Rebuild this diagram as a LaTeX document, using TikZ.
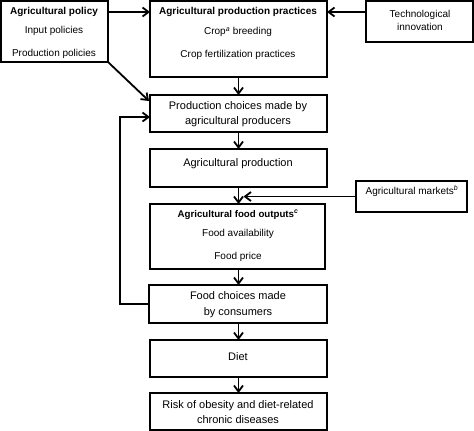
\documentclass[tikz,border=0pt]{standalone}
\usepackage{fontspec}
\setmainfont{Liberation Sans}
\usetikzlibrary{arrows.meta,calc}
\begin{document}
\begin{tikzpicture}[x=1pt,y=-1pt,
 box/.style={draw, line width=1.3pt, inner sep=0pt, outer sep=0pt, anchor=north west},
 tten/.style={font=\fontsize{10}{13}\selectfont, inner sep=0pt, align=center},
 tbold/.style={font=\fontsize{10}{12}\selectfont\bfseries, inner sep=0pt},
 televen/.style={font=\fontsize{11}{15}\selectfont, inner sep=0pt, align=center},
 arr/.style={line width=1.8pt, -{Straight Barb[length=6pt,width=9pt,line width=1.8pt]}}]
\fill[white] (0,0) rectangle (474,431);
\useasboundingbox (0,0) rectangle (474,431);
% boxes
\node[box, minimum width=107pt, minimum height=61pt] (policy) at (1,1) {};
\node[box, minimum width=177pt, minimum height=76pt] (practices) at (150,1) {};
\node[box, minimum width=107pt, minimum height=41pt] (tech) at (366,1) {};
\node[box, minimum width=177pt, minimum height=37pt] (prodchoice) at (150,95) {};
\node[box, minimum width=177pt, minimum height=38pt] (agprod) at (150,149) {};
\node[box, minimum width=111pt, minimum height=31pt] (markets) at (356,181) {};
\node[box, minimum width=175pt, minimum height=65pt] (outputs) at (150,204) {};
\node[box, minimum width=178pt, minimum height=38pt] (foodchoice) at (149,285) {};
\node[box, minimum width=177pt, minimum height=37pt] (diet) at (150,340) {};
\node[box, minimum width=177pt, minimum height=37pt] (risk) at (150,393) {};
% texts
\node[tbold] (policyT) at (54,12) {Agricultural policy};
\node[tten] (policyA) at (54,31) {Input policies};
\node[tten] (policyB) at (54,54) {Production policies};
\node[tbold] (pracT) at (238,12) {Agricultural production practices};
\node[tten] (pracA) at (238,32) {Crop\textsuperscript{\itshape a} breeding};
\node[tten] (pracB) at (238,55) {Crop fertilization practices};
\node[tten] (techT) at (420,20) {Technological\\innovation};
\node[televen] (prodchoiceT) at (238,114) {Production choices made by\\agricultural producers};
\node[televen] (agprodT) at (238,164) {Agricultural production};
\node[tten] (marketsT) at (412,191) {Agricultural markets\textsuperscript{\itshape b}};
\node[tbold, font=\fontsize{9.7}{12}\selectfont\bfseries] (outputsT) at (238,215) {Agricultural food outputs\textsuperscript{\itshape c}};
\node[tten] (outputsA) at (238,234) {Food availability};
\node[tten] (outputsB) at (238,257) {Food price};
\node[televen, font=\fontsize{11}{16}\selectfont] (foodchoiceT) at (238,305) {Food choices made\\by consumers};
\node[televen] (dietT) at (238,357) {Diet};
\node[televen] (riskT) at (238,412) {Risk of obesity and diet-related\\chronic diseases};
% connectors
\coordinate (yA) at (0,12);
\coordinate (yF) at (0,117);
\coordinate (xF) at (120,0);
\draw[arr] (policy.east |- yA) -- (practices.west |- yA);
\draw[arr] (tech.west |- yA) -- (practices.east |- yA);
\draw[arr] (policy.south east) -- ($(prodchoice.north west)+(-1,6)$);
\draw[arr] (practices.south) -- (prodchoice.north);
\draw[arr] (prodchoice.south) -- (agprod.north);
\draw[arr] (agprod.south) -- (agprod.south |- outputs.north);
\draw[arr] (markets.west) -- ($(markets.west -| agprod.south)+(5,0)$);
\draw[arr] (outputs.south -| agprod.south) -- (foodchoice.north -| agprod.south);
\draw[arr] (foodchoice.south -| agprod.south) -- (diet.north);
\draw[arr] (diet.south) -- (risk.north);
\draw[arr] (foodchoice.west) -- (xF |- foodchoice.west) -- (xF |- yF) -- (prodchoice.west |- yF);
\end{tikzpicture}
\end{document}
